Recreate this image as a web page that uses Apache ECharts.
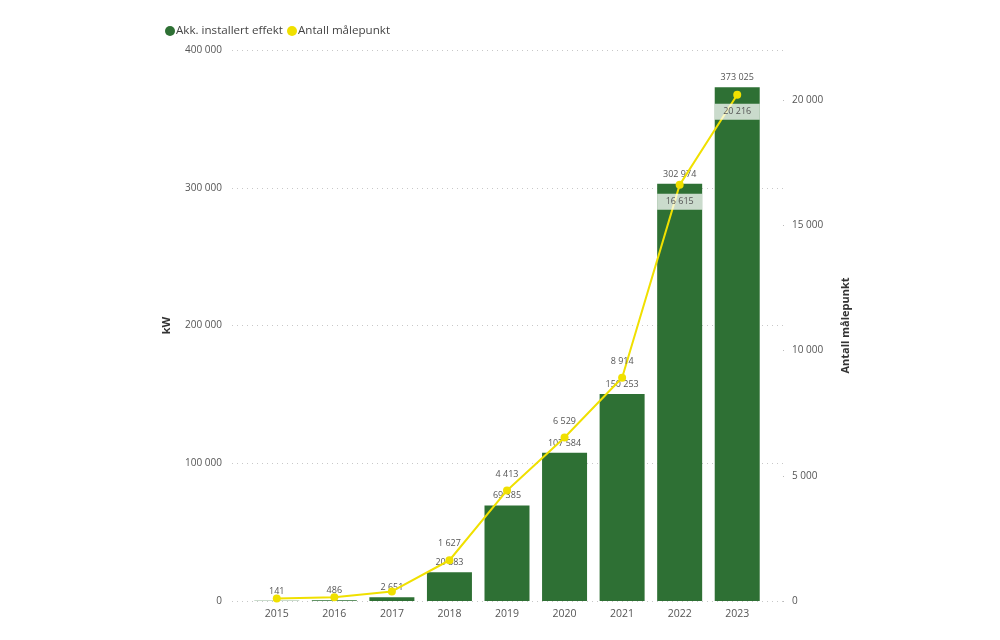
<!DOCTYPE html>
<html>
<head>
<meta charset="utf-8">
<script src="https://cdn.jsdelivr.net/npm/echarts@6/dist/echarts.min.js"></script>
<style>
html,body{margin:0;padding:0;background:#fff;}
#c{width:1000px;height:640px;}
</style>
</head>
<body>
<div id="c"></div>
<script>
const years = ['2015','2016','2017','2018','2019','2020','2021','2022','2023'];
const effektKW = [141, 486, 2651, 20883, 69385, 107584, 150253, 302974, 373025];
const antallMalepunkt = [100, 150, 380, 1627, 4413, 6529, 8914, 16615, 20216];
const leftTicks = [0, 100000, 200000, 300000, 400000];
const rightTicks = [0, 5000, 10000, 15000, 20000];

const FONT = '"Open Sans", "Noto Sans", sans-serif';
const fmt = v => String(v).replace(/\B(?=(\d{3})+(?!\d))/g, ' ');
const GREEN = '#2e7034';
const YELLOW = '#f0e000';

const lineData = antallMalepunkt.map((v, i) => {
  const item = { value: v };
  if (i < 3) {
    item.label = { show: false };
  } else if (i >= 7) {
    item.label = {
      show: true, position: 'bottom', distance: 5,
      backgroundColor: 'rgba(255,255,255,0.75)',
      width: 45, align: 'center', padding: [2, 0, 2, 0], lineHeight: 12
    };
  }
  return item;
});

const chart = echarts.init(document.getElementById('c'), null, { renderer: 'canvas' });
chart.setOption({
  animation: false,
  textStyle: { fontFamily: FONT },
  legend: {
    left: 160, top: 20,
    icon: 'circle', itemWidth: 10, itemHeight: 10, itemGap: 4,
    textStyle: { fontFamily: FONT, fontSize: 11.6, color: '#444', padding: [0, 0, 0, -4] },
    data: ['Akk. installert effekt', 'Antall målepunkt']
  },
  grid: [
    { left: 232, right: 217, top: 50, bottom: 39 },
    { left: 248, right: 234, top: 50, bottom: 39 }
  ],
  xAxis: [
    { type: 'category', gridIndex: 0, data: years, show: false },
    {
      type: 'category', gridIndex: 1, data: years,
      axisLine: { show: false }, axisTick: { show: false },
      axisLabel: { color: '#555', fontSize: 10.5, fontFamily: FONT, margin: 8 }
    }
  ],
  yAxis: [
    {
      type: 'value', gridIndex: 0, position: 'left',
      min: leftTicks[0], max: leftTicks[leftTicks.length - 1], interval: leftTicks[1] - leftTicks[0],
      name: 'kW', nameLocation: 'middle', nameGap: 60, nameRotate: 90,
      nameTextStyle: { fontFamily: FONT, fontSize: 11, fontWeight: 'bold', color: '#333' },
      axisLine: { show: false }, axisTick: { show: false },
      axisLabel: { color: '#555', fontSize: 10, fontFamily: FONT, margin: 10, formatter: fmt },
      splitLine: { show: true, lineStyle: { color: '#c8c8c8', type: [1, 4], width: 1 } }
    },
    {
      type: 'value', gridIndex: 0, position: 'right',
      min: rightTicks[0], max: 22000, interval: rightTicks[1] - rightTicks[0],
      name: 'Antall målepunkt', nameLocation: 'middle', nameGap: 57, nameRotate: 90,
      nameTextStyle: { fontFamily: FONT, fontSize: 11, fontWeight: 'bold', color: '#333' },
      axisLine: { show: false },
      axisTick: { show: true, length: 1, lineStyle: { color: '#bbb' } },
      axisLabel: { color: '#555', fontSize: 10, fontFamily: FONT, margin: 9, formatter: fmt, showMaxLabel: false },
      splitLine: { show: false }
    },
    {
      type: 'value', gridIndex: 1, position: 'left',
      min: leftTicks[0], max: leftTicks[leftTicks.length - 1], show: false, splitLine: { show: false }
    },
    {
      type: 'value', gridIndex: 1, position: 'right',
      min: rightTicks[0], max: 22000, show: false, splitLine: { show: false }
    }
  ],
  series: [
    {
      name: 'Akk. installert effekt', type: 'bar',
      xAxisIndex: 1, yAxisIndex: 2,
      data: effektKW,
      barWidth: 45,
      itemStyle: { color: GREEN },
      label: {
        show: true, position: 'top', distance: 5,
        color: '#555', fontSize: 9, fontFamily: FONT,
        formatter: p => fmt(p.value)
      },
      z: 2
    },
    {
      name: 'Antall målepunkt', type: 'line',
      xAxisIndex: 1, yAxisIndex: 3,
      data: lineData,
      symbol: 'circle', symbolSize: 8,
      lineStyle: { color: YELLOW, width: 2 },
      itemStyle: { color: YELLOW },
      label: {
        show: true, position: 'top', distance: 8,
        color: '#555', fontSize: 9, fontFamily: FONT,
        formatter: p => fmt(p.value)
      },
      z: 3
    }
  ]
});
</script>
</body>
</html>
